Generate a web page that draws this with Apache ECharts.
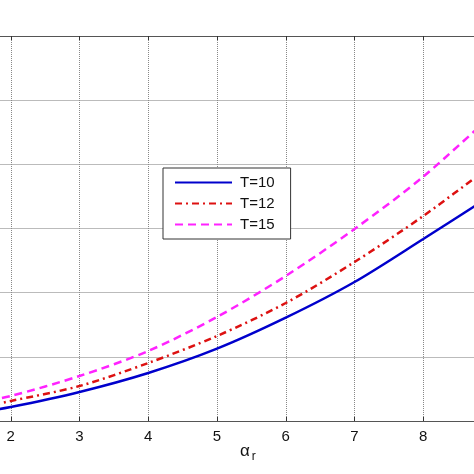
<!DOCTYPE html>
<html>
<head>
<meta charset="utf-8">
<script src="https://cdn.jsdelivr.net/npm/echarts@6/dist/echarts.min.js"></script>
<style>
html,body{margin:0;padding:0;background:#fff;overflow:hidden;width:474px;height:474px;}
#c{position:absolute;left:-58px;top:0;width:550px;height:474px;}
</style>
</head>
<body>
<div id="c"></div>
<script>
var xValues = [1.5, 2, 3, 4, 5, 6, 7, 8, 9];
var seriesNames = ['T=10', 'T=12', 'T=15'];
var t10 = [0.13, 0.218, 0.452, 0.748, 1.127, 1.610, 2.166, 2.836, 3.52];
var t12 = [0.20, 0.312, 0.545, 0.904, 1.325, 1.839, 2.478, 3.195, 3.99];
var t15 = [0.28, 0.39, 0.701, 1.091, 1.621, 2.26, 2.992, 3.807, 4.77];

function pairs(ys) { return xValues.map(function (x, i) { return [x, ys[i]]; }); }

var OX = 58; // container offset
var chart = echarts.init(document.getElementById('c'));
var font = 'Liberation Sans, Arial, sans-serif';
chart.setOption({
  animation: false,
  backgroundColor: '#fff',
  grid: { left: 0, right: 0, top: 36, bottom: 53, containLabel: false, outerBoundsMode: 'none' },
  xAxis: [{
    type: 'value', min: 1, max: 9, interval: 1, position: 'bottom',
    axisLine: { show: true, lineStyle: { color: '#555', width: 1 } },
    axisTick: { show: true, inside: true, length: 4, lineStyle: { color: '#333' } },
    axisLabel: { color: '#111', fontSize: 15, fontFamily: font, margin: 8 },
    splitLine: { show: true, lineStyle: { color: '#888', type: 'dotted', width: 1 } }
  }, {
    type: 'value', min: 1, max: 9, interval: 1, position: 'top',
    axisLine: { show: true, onZero: false, lineStyle: { color: '#555', width: 1 } },
    axisTick: { show: true, inside: true, length: 4, lineStyle: { color: '#333' } },
    axisLabel: { show: false },
    splitLine: { show: false }
  }],
  yAxis: {
    type: 'value', min: 0, max: 6, interval: 1,
    axisLine: { show: false }, axisTick: { show: false }, axisLabel: { show: false },
    splitLine: { show: true, lineStyle: { color: '#bbb', type: 'solid', width: 1 } }
  },
  legend: {
    orient: 'vertical', left: 163 + OX, top: 168,
    data: seriesNames,
    backgroundColor: '#fff', borderColor: '#333', borderWidth: 1,
    padding: [7, 16, 7, 11], itemGap: 6, itemWidth: 57, itemHeight: 14,
    itemStyle: { opacity: 0 },
    textStyle: { fontSize: 15, fontFamily: font, color: '#111', padding: [0, 0, 0, 3] }
  },
  graphic: [{
    type: 'text', left: 240 + OX, top: 443,
    style: {
      text: '{a|α}{s|r}',
      rich: {
        a: { fontSize: 17, fontFamily: font, fill: '#111' },
        s: { fontSize: 12, fontFamily: font, fill: '#111', padding: [10, 0, 0, 2] }
      }
    }
  }],
  series: [
    { name: seriesNames[0], type: 'line', data: pairs(t10), smooth: 0.3, symbol: 'none',
      lineStyle: { color: '#0000cc', width: 2.5, type: 'solid' }, itemStyle: { color: '#0000cc' } },
    { name: seriesNames[1], type: 'line', data: pairs(t12), smooth: 0.3, symbol: 'none',
      lineStyle: { color: '#dd1111', width: 2.5, type: [7, 4, 2, 4] }, itemStyle: { color: '#dd1111' } },
    { name: seriesNames[2], type: 'line', data: pairs(t15), smooth: 0.3, symbol: 'none',
      lineStyle: { color: '#ff22ff', width: 2.5, type: [8, 5] }, itemStyle: { color: '#ff22ff' } }
  ]
});
</script>
</body>
</html>
